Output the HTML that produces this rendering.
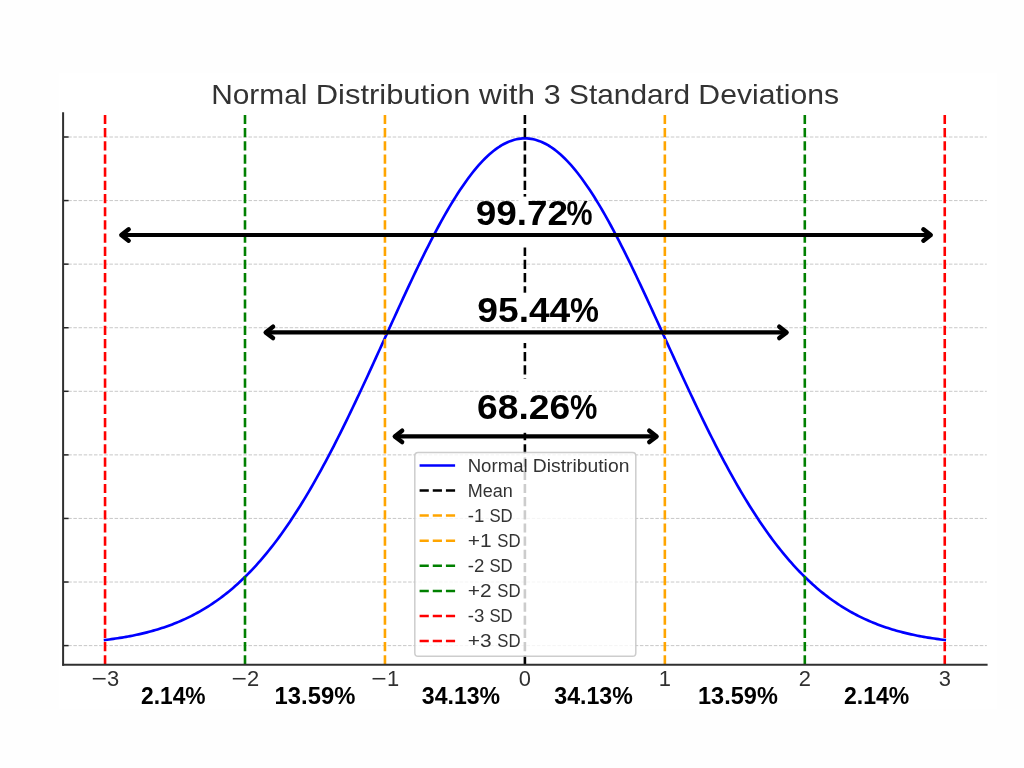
<!DOCTYPE html>
<html><head><meta charset="utf-8"><title>Normal Distribution with 3 Standard Deviations</title>
<style>html,body{margin:0;padding:0;background:#fefefe;}body{width:1024px;height:768px;overflow:hidden;font-family:"Liberation Sans",sans-serif;}svg{display:block;will-change:transform;}text{font-family:"Liberation Sans",sans-serif;}</style>
</head><body>
<svg width="1024" height="768" viewBox="0 0 1024 768">
<rect x="0" y="0" width="1024" height="768" fill="#fefefe"/>
<rect x="59" y="73" width="938" height="636" fill="#ffffff"/>
<line x1="63.1" y1="645.60" x2="986.8" y2="645.60" stroke="#c2c2c2" stroke-width="0.9" stroke-dasharray="3.5 1.65"/>
<line x1="63.1" y1="582.02" x2="986.8" y2="582.02" stroke="#c2c2c2" stroke-width="0.9" stroke-dasharray="3.5 1.65"/>
<line x1="63.1" y1="518.45" x2="986.8" y2="518.45" stroke="#c2c2c2" stroke-width="0.9" stroke-dasharray="3.5 1.65"/>
<line x1="63.1" y1="454.88" x2="986.8" y2="454.88" stroke="#c2c2c2" stroke-width="0.9" stroke-dasharray="3.5 1.65"/>
<line x1="63.1" y1="391.30" x2="986.8" y2="391.30" stroke="#c2c2c2" stroke-width="0.9" stroke-dasharray="3.5 1.65"/>
<line x1="63.1" y1="327.73" x2="986.8" y2="327.73" stroke="#c2c2c2" stroke-width="0.9" stroke-dasharray="3.5 1.65"/>
<line x1="63.1" y1="264.15" x2="986.8" y2="264.15" stroke="#c2c2c2" stroke-width="0.9" stroke-dasharray="3.5 1.65"/>
<line x1="63.1" y1="200.57" x2="986.8" y2="200.57" stroke="#c2c2c2" stroke-width="0.9" stroke-dasharray="3.5 1.65"/>
<line x1="63.1" y1="137.00" x2="986.8" y2="137.00" stroke="#c2c2c2" stroke-width="0.9" stroke-dasharray="3.5 1.65"/>
<line x1="63.1" y1="645.60" x2="68.6" y2="645.60" stroke="#262626" stroke-width="1.5"/>
<line x1="63.1" y1="582.02" x2="68.6" y2="582.02" stroke="#262626" stroke-width="1.5"/>
<line x1="63.1" y1="518.45" x2="68.6" y2="518.45" stroke="#262626" stroke-width="1.5"/>
<line x1="63.1" y1="454.88" x2="68.6" y2="454.88" stroke="#262626" stroke-width="1.5"/>
<line x1="63.1" y1="391.30" x2="68.6" y2="391.30" stroke="#262626" stroke-width="1.5"/>
<line x1="63.1" y1="327.73" x2="68.6" y2="327.73" stroke="#262626" stroke-width="1.5"/>
<line x1="63.1" y1="264.15" x2="68.6" y2="264.15" stroke="#262626" stroke-width="1.5"/>
<line x1="63.1" y1="200.57" x2="68.6" y2="200.57" stroke="#262626" stroke-width="1.5"/>
<line x1="63.1" y1="137.00" x2="68.6" y2="137.00" stroke="#262626" stroke-width="1.5"/>
<polyline fill="none" stroke="#0000ff" stroke-width="2.65" stroke-linejoin="round" stroke-linecap="square" points="105.05,639.96 107.15,639.71 109.25,639.44 111.35,639.16 113.45,638.87 115.55,638.56 117.65,638.25 119.74,637.92 121.84,637.58 123.94,637.23 126.04,636.86 128.14,636.48 130.24,636.09 132.34,635.68 134.44,635.25 136.54,634.81 138.64,634.35 140.74,633.88 142.84,633.39 144.94,632.88 147.03,632.35 149.13,631.80 151.23,631.24 153.33,630.65 155.43,630.05 157.53,629.42 159.63,628.77 161.73,628.10 163.83,627.41 165.93,626.70 168.03,625.96 170.13,625.19 172.23,624.40 174.33,623.59 176.42,622.75 178.52,621.88 180.62,620.99 182.72,620.07 184.82,619.12 186.92,618.14 189.02,617.13 191.12,616.08 193.22,615.01 195.32,613.91 197.42,612.77 199.52,611.61 201.62,610.40 203.71,609.17 205.81,607.89 207.91,606.59 210.01,605.24 212.11,603.86 214.21,602.44 216.31,600.99 218.41,599.49 220.51,597.96 222.61,596.38 224.71,594.77 226.81,593.11 228.91,591.42 231.00,589.67 233.10,587.89 235.20,586.07 237.30,584.19 239.40,582.28 241.50,580.32 243.60,578.31 245.70,576.26 247.80,574.16 249.90,572.02 252.00,569.83 254.10,567.58 256.20,565.30 258.30,562.96 260.39,560.57 262.49,558.14 264.59,555.65 266.69,553.12 268.79,550.53 270.89,547.90 272.99,545.21 275.09,542.48 277.19,539.69 279.29,536.86 281.39,533.97 283.49,531.03 285.59,528.04 287.68,525.00 289.78,521.91 291.88,518.76 293.98,515.57 296.08,512.33 298.18,509.03 300.28,505.69 302.38,502.30 304.48,498.85 306.58,495.36 308.68,491.82 310.78,488.24 312.88,484.60 314.98,480.92 317.07,477.19 319.17,473.42 321.27,469.60 323.37,465.73 325.47,461.83 327.57,457.88 329.67,453.89 331.77,449.85 333.87,445.78 335.97,441.67 338.07,437.52 340.17,433.34 342.27,429.12 344.36,424.86 346.46,420.58 348.56,416.26 350.66,411.91 352.76,407.53 354.86,403.12 356.96,398.69 359.06,394.24 361.16,389.76 363.26,385.26 365.36,380.74 367.46,376.20 369.56,371.64 371.65,367.08 373.75,362.50 375.85,357.90 377.95,353.30 380.05,348.70 382.15,344.09 384.25,339.47 386.35,334.86 388.45,330.24 390.55,325.63 392.65,321.03 394.75,316.43 396.85,311.85 398.94,307.27 401.04,302.71 403.14,298.17 405.24,293.65 407.34,289.14 409.44,284.66 411.54,280.21 413.64,275.79 415.74,271.39 417.84,267.03 419.94,262.70 422.04,258.42 424.14,254.17 426.24,249.96 428.33,245.80 430.43,241.69 432.53,237.62 434.63,233.61 436.73,229.65 438.83,225.75 440.93,221.90 443.03,218.12 445.13,214.40 447.23,210.75 449.33,207.16 451.43,203.65 453.53,200.20 455.62,196.83 457.72,193.54 459.82,190.33 461.92,187.19 464.02,184.14 466.12,181.17 468.22,178.29 470.32,175.49 472.42,172.79 474.52,170.17 476.62,167.65 478.72,165.23 480.82,162.90 482.92,160.67 485.01,158.53 487.11,156.50 489.21,154.57 491.31,152.75 493.41,151.02 495.51,149.41 497.61,147.90 499.71,146.50 501.81,145.20 503.91,144.02 506.01,142.95 508.11,141.98 510.21,141.13 512.30,140.40 514.40,139.77 516.50,139.26 518.60,138.86 520.70,138.57 522.80,138.40 524.90,138.34 527.00,138.40 529.10,138.57 531.20,138.86 533.30,139.26 535.40,139.77 537.50,140.40 539.59,141.13 541.69,141.98 543.79,142.95 545.89,144.02 547.99,145.20 550.09,146.50 552.19,147.90 554.29,149.41 556.39,151.02 558.49,152.75 560.59,154.57 562.69,156.50 564.79,158.53 566.88,160.67 568.98,162.90 571.08,165.23 573.18,167.65 575.28,170.17 577.38,172.79 579.48,175.49 581.58,178.29 583.68,181.17 585.78,184.14 587.88,187.19 589.98,190.33 592.08,193.54 594.18,196.83 596.27,200.20 598.37,203.65 600.47,207.16 602.57,210.75 604.67,214.40 606.77,218.12 608.87,221.90 610.97,225.75 613.07,229.65 615.17,233.61 617.27,237.62 619.37,241.69 621.47,245.80 623.56,249.96 625.66,254.17 627.76,258.42 629.86,262.70 631.96,267.03 634.06,271.39 636.16,275.79 638.26,280.21 640.36,284.66 642.46,289.14 644.56,293.65 646.66,298.17 648.76,302.71 650.86,307.27 652.95,311.85 655.05,316.43 657.15,321.03 659.25,325.63 661.35,330.24 663.45,334.86 665.55,339.47 667.65,344.09 669.75,348.70 671.85,353.30 673.95,357.90 676.05,362.50 678.15,367.08 680.24,371.64 682.34,376.20 684.44,380.74 686.54,385.26 688.64,389.76 690.74,394.24 692.84,398.69 694.94,403.12 697.04,407.53 699.14,411.91 701.24,416.26 703.34,420.58 705.44,424.86 707.53,429.12 709.63,433.34 711.73,437.52 713.83,441.67 715.93,445.78 718.03,449.85 720.13,453.89 722.23,457.88 724.33,461.83 726.43,465.73 728.53,469.60 730.63,473.42 732.73,477.19 734.82,480.92 736.92,484.60 739.02,488.24 741.12,491.82 743.22,495.36 745.32,498.85 747.42,502.30 749.52,505.69 751.62,509.03 753.72,512.33 755.82,515.57 757.92,518.76 760.02,521.91 762.12,525.00 764.21,528.04 766.31,531.03 768.41,533.97 770.51,536.86 772.61,539.69 774.71,542.48 776.81,545.21 778.91,547.90 781.01,550.53 783.11,553.12 785.21,555.65 787.31,558.14 789.41,560.57 791.50,562.96 793.60,565.30 795.70,567.58 797.80,569.83 799.90,572.02 802.00,574.16 804.10,576.26 806.20,578.31 808.30,580.32 810.40,582.28 812.50,584.19 814.60,586.07 816.70,587.89 818.79,589.67 820.89,591.42 822.99,593.11 825.09,594.77 827.19,596.38 829.29,597.96 831.39,599.49 833.49,600.99 835.59,602.44 837.69,603.86 839.79,605.24 841.89,606.59 843.99,607.89 846.09,609.17 848.18,610.40 850.28,611.61 852.38,612.77 854.48,613.91 856.58,615.01 858.68,616.08 860.78,617.13 862.88,618.14 864.98,619.12 867.08,620.07 869.18,620.99 871.28,621.88 873.38,622.75 875.47,623.59 877.57,624.40 879.67,625.19 881.77,625.96 883.87,626.70 885.97,627.41 888.07,628.10 890.17,628.77 892.27,629.42 894.37,630.05 896.47,630.65 898.57,631.24 900.67,631.80 902.76,632.35 904.86,632.88 906.96,633.39 909.06,633.88 911.16,634.35 913.26,634.81 915.36,635.25 917.46,635.68 919.56,636.09 921.66,636.48 923.76,636.86 925.86,637.23 927.96,637.58 930.06,637.92 932.15,638.25 934.25,638.56 936.35,638.87 938.45,639.16 940.55,639.44 942.65,639.71 944.75,639.96"/>
<line x1="524.90" y1="664.40" x2="524.90" y2="113.3" stroke="#000000" stroke-width="2.6" stroke-dasharray="9.21 3.968"/>
<line x1="384.95" y1="664.40" x2="384.95" y2="113.3" stroke="#ffa500" stroke-width="2.6" stroke-dasharray="9.21 3.968"/>
<line x1="664.85" y1="664.40" x2="664.85" y2="113.3" stroke="#ffa500" stroke-width="2.6" stroke-dasharray="9.21 3.968"/>
<line x1="245.00" y1="664.40" x2="245.00" y2="113.3" stroke="#008000" stroke-width="2.6" stroke-dasharray="9.21 3.968"/>
<line x1="804.80" y1="664.40" x2="804.80" y2="113.3" stroke="#008000" stroke-width="2.6" stroke-dasharray="9.21 3.968"/>
<line x1="105.05" y1="664.40" x2="105.05" y2="113.3" stroke="#ff0000" stroke-width="2.6" stroke-dasharray="9.21 3.968"/>
<line x1="944.75" y1="664.40" x2="944.75" y2="113.3" stroke="#ff0000" stroke-width="2.6" stroke-dasharray="9.21 3.968"/>
<rect x="414.8" y="452.6" width="221.0" height="203.6" rx="3.3" ry="3.3" fill="#ffffff" fill-opacity="0.8" stroke="#c4c4c4" stroke-opacity="0.85" stroke-width="1.5"/>
<line x1="419.6" y1="465.40" x2="455.1" y2="465.40" stroke="#0000ff" stroke-width="2.5"/>
<text y="471.50" font-size="17.5" fill="#333333" xml:space="preserve"><tspan x="467.70" textLength="65.14" lengthAdjust="spacingAndGlyphs">Normal </tspan><tspan x="532.84" textLength="96.55" lengthAdjust="spacingAndGlyphs">Distribution</tspan></text>
<line x1="419.6" y1="490.50" x2="455.1" y2="490.50" stroke="#000000" stroke-width="2.5" stroke-dasharray="9.2 3.96"/>
<text y="496.60" font-size="17.5" fill="#333333" xml:space="preserve"><tspan x="467.70" textLength="45.09" lengthAdjust="spacingAndGlyphs">Mean</tspan></text>
<line x1="419.6" y1="515.60" x2="455.1" y2="515.60" stroke="#ffa500" stroke-width="2.5" stroke-dasharray="9.2 3.96"/>
<text y="521.70" font-size="17.5" fill="#333333" xml:space="preserve"><tspan x="467.70" textLength="21.76" lengthAdjust="spacingAndGlyphs">-1 </tspan><tspan x="489.46" textLength="23.25" lengthAdjust="spacingAndGlyphs">SD</tspan></text>
<line x1="419.6" y1="540.70" x2="455.1" y2="540.70" stroke="#ffa500" stroke-width="2.5" stroke-dasharray="9.2 3.96"/>
<text y="546.80" font-size="17.5" fill="#333333" xml:space="preserve"><tspan x="467.70" textLength="29.66" lengthAdjust="spacingAndGlyphs">+1 </tspan><tspan x="497.36" textLength="23.25" lengthAdjust="spacingAndGlyphs">SD</tspan></text>
<line x1="419.6" y1="565.80" x2="455.1" y2="565.80" stroke="#008000" stroke-width="2.5" stroke-dasharray="9.2 3.96"/>
<text y="571.90" font-size="17.5" fill="#333333" xml:space="preserve"><tspan x="467.70" textLength="21.76" lengthAdjust="spacingAndGlyphs">-2 </tspan><tspan x="489.46" textLength="23.25" lengthAdjust="spacingAndGlyphs">SD</tspan></text>
<line x1="419.6" y1="590.90" x2="455.1" y2="590.90" stroke="#008000" stroke-width="2.5" stroke-dasharray="9.2 3.96"/>
<text y="597.00" font-size="17.5" fill="#333333" xml:space="preserve"><tspan x="467.70" textLength="29.66" lengthAdjust="spacingAndGlyphs">+2 </tspan><tspan x="497.36" textLength="23.25" lengthAdjust="spacingAndGlyphs">SD</tspan></text>
<line x1="419.6" y1="616.00" x2="455.1" y2="616.00" stroke="#ff0000" stroke-width="2.5" stroke-dasharray="9.2 3.96"/>
<text y="622.10" font-size="17.5" fill="#333333" xml:space="preserve"><tspan x="467.70" textLength="21.76" lengthAdjust="spacingAndGlyphs">-3 </tspan><tspan x="489.46" textLength="23.25" lengthAdjust="spacingAndGlyphs">SD</tspan></text>
<line x1="419.6" y1="641.10" x2="455.1" y2="641.10" stroke="#ff0000" stroke-width="2.5" stroke-dasharray="9.2 3.96"/>
<text y="647.20" font-size="17.5" fill="#333333" xml:space="preserve"><tspan x="467.70" textLength="29.66" lengthAdjust="spacingAndGlyphs">+3 </tspan><tspan x="497.36" textLength="23.25" lengthAdjust="spacingAndGlyphs">SD</tspan></text>
<line x1="63.1" y1="112.3" x2="63.1" y2="665.65" stroke="#303030" stroke-width="2"/>
<line x1="62.300000000000004" y1="664.85" x2="987.5999999999999" y2="664.85" stroke="#303030" stroke-width="2"/>
<text y="686.1" font-size="21.9" fill="#303030"><tspan x="91.45" textLength="15.4" lengthAdjust="spacingAndGlyphs">−</tspan><tspan x="107.05">3</tspan></text>
<text y="686.1" font-size="21.9" fill="#303030"><tspan x="231.40" textLength="15.4" lengthAdjust="spacingAndGlyphs">−</tspan><tspan x="247.00">2</tspan></text>
<text y="686.1" font-size="21.9" fill="#303030"><tspan x="371.35" textLength="15.4" lengthAdjust="spacingAndGlyphs">−</tspan><tspan x="386.95">1</tspan></text>
<text x="524.90" y="686.1" font-size="21.9" fill="#303030" text-anchor="middle">0</text>
<text x="664.85" y="686.1" font-size="21.9" fill="#303030" text-anchor="middle">1</text>
<text x="804.80" y="686.1" font-size="21.9" fill="#303030" text-anchor="middle">2</text>
<text x="944.75" y="686.1" font-size="21.9" fill="#303030" text-anchor="middle">3</text>
<text y="103.9" font-size="28.1" fill="#333333" xml:space="preserve"><tspan x="211.21" textLength="104.50" lengthAdjust="spacingAndGlyphs">Normal </tspan><tspan x="315.71" textLength="163.33" lengthAdjust="spacingAndGlyphs">Distribution </tspan><tspan x="479.04" textLength="64.77" lengthAdjust="spacingAndGlyphs">with </tspan><tspan x="543.81" textLength="25.33" lengthAdjust="spacingAndGlyphs">3 </tspan><tspan x="569.14" textLength="129.22" lengthAdjust="spacingAndGlyphs">Standard </tspan><tspan x="698.37" textLength="140.83" lengthAdjust="spacingAndGlyphs">Deviations</tspan></text>
<rect x="518.5" y="196.6" width="13" height="50.9" fill="#ffffff"/>
<rect x="518.5" y="292.7" width="13" height="50.3" fill="#ffffff"/>
<rect x="518.5" y="379.0" width="13" height="53.8" fill="#ffffff"/>
<line x1="120.85" y1="235.0" x2="931.2" y2="235.0" stroke="#000" stroke-width="4.2"/>
<polyline points="128.65,229.30 121.35,235.0 128.65,240.70" fill="none" stroke="#000" stroke-width="4.5" stroke-linecap="round" stroke-linejoin="round"/>
<polyline points="923.40,229.30 930.70,235.0 923.40,240.70" fill="none" stroke="#000" stroke-width="4.5" stroke-linecap="round" stroke-linejoin="round"/>
<line x1="265.2" y1="332.4" x2="787.1" y2="332.4" stroke="#000" stroke-width="4.2"/>
<polyline points="273.00,326.70 265.70,332.4 273.00,338.10" fill="none" stroke="#000" stroke-width="4.5" stroke-linecap="round" stroke-linejoin="round"/>
<polyline points="779.30,326.70 786.60,332.4 779.30,338.10" fill="none" stroke="#000" stroke-width="4.5" stroke-linecap="round" stroke-linejoin="round"/>
<line x1="394.3" y1="436.4" x2="657.1" y2="436.4" stroke="#000" stroke-width="4.2"/>
<polyline points="402.10,430.70 394.80,436.4 402.10,442.10" fill="none" stroke="#000" stroke-width="4.5" stroke-linecap="round" stroke-linejoin="round"/>
<polyline points="649.30,430.70 656.60,436.4 649.30,442.10" fill="none" stroke="#000" stroke-width="4.5" stroke-linecap="round" stroke-linejoin="round"/>
<text y="225.3" font-size="35.4" font-weight="700" fill="#000"><tspan x="475.70" textLength="92.30" lengthAdjust="spacingAndGlyphs">99.72</tspan><tspan x="566.40" textLength="26.00" lengthAdjust="spacingAndGlyphs">%</tspan></text>
<text y="322.1" font-size="35.4" font-weight="700" fill="#000"><tspan x="477.30" textLength="93.00" lengthAdjust="spacingAndGlyphs">95.44</tspan><tspan x="569.90" textLength="28.90" lengthAdjust="spacingAndGlyphs">%</tspan></text>
<text y="419.1" font-size="35.4" font-weight="700" fill="#000"><tspan x="477.10" textLength="93.20" lengthAdjust="spacingAndGlyphs">68.26</tspan><tspan x="569.90" textLength="27.35" lengthAdjust="spacingAndGlyphs">%</tspan></text>
<text x="141.0" y="703.9" font-size="23.1" font-weight="700" fill="#000" textLength="64.6" lengthAdjust="spacingAndGlyphs">2.14%</text>
<text x="274.6" y="703.9" font-size="23.1" font-weight="700" fill="#000" textLength="80.7" lengthAdjust="spacingAndGlyphs">13.59%</text>
<text x="421.8" y="703.9" font-size="23.1" font-weight="700" fill="#000" textLength="78.3" lengthAdjust="spacingAndGlyphs">34.13%</text>
<text x="554.3" y="703.9" font-size="23.1" font-weight="700" fill="#000" textLength="78.5" lengthAdjust="spacingAndGlyphs">34.13%</text>
<text x="698.0" y="703.9" font-size="23.1" font-weight="700" fill="#000" textLength="79.8" lengthAdjust="spacingAndGlyphs">13.59%</text>
<text x="844.0" y="703.9" font-size="23.1" font-weight="700" fill="#000" textLength="65.3" lengthAdjust="spacingAndGlyphs">2.14%</text>
</svg>
</body></html>
